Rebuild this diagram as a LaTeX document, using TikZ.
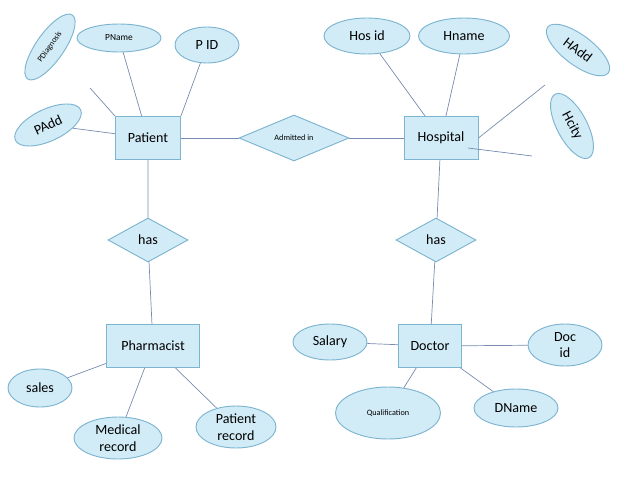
\documentclass[tikz,border=0pt]{standalone}
\usepackage{fontspec}
\setmainfont{Carlito}
\usetikzlibrary{shapes.geometric}
\definecolor{bfill}{RGB}{210,236,247}
\definecolor{bdraw}{RGB}{125,180,208}
\definecolor{lcol}{RGB}{120,140,175}
\begin{document}
\begin{tikzpicture}[x=0.03cm,y=-0.03cm,
 sh/.style={draw=bdraw,fill=bfill,line width=0.8pt,inner sep=1pt,align=center},
 ent/.style={sh,rectangle,minimum width=#1*0.03cm,minimum height=43*0.03cm,font=\fontsize{12}{14}\selectfont},
 rel/.style={sh,diamond,aspect=2.3,minimum width=#1*0.03cm,font=\fontsize{12}{14}\selectfont},
 att/.style={sh,ellipse,inner sep=0pt,font=\fontsize{12}{14}\selectfont},
 ln/.style={draw=lcol,line width=0.6pt}]
\useasboundingbox (0,0) rectangle (638,478);
\node[ent=65] (pat) at (148,138) {Patient};
\node[ent=74] (hos) at (441,138) {Hospital};
\node[rel=110,font=\fontsize{7}{8}\selectfont,minimum height=46*0.03cm] (adm) at (294,138) {Admitted in};
\node[rel=80,minimum height=44*0.03cm] (has1) at (148,240) {has};
\node[rel=80,minimum height=44*0.03cm] (has2) at (436,240) {has};
\node[ent=93] (pha) at (153,346) {Pharmacist};
\node[ent=63] (doc) at (430,346) {Doctor};
\node[att,minimum width=78*0.03cm,minimum height=28*0.03cm,rotate=55,font=\fontsize{7}{8}\selectfont] (pdi) at (50,47) {PDiagnosis};
\node[att,minimum width=84*0.03cm,minimum height=28*0.03cm,font=\fontsize{8}{9}\selectfont] (pna) at (119,38) {PName};
\node[att,minimum width=64*0.03cm,minimum height=36*0.03cm] (pid) at (207,45) {P ID};
\node[att,minimum width=72*0.03cm,minimum height=32*0.03cm,rotate=25] (pad) at (48,125) {PAdd};
\node[att,minimum width=86*0.03cm,minimum height=36*0.03cm] (hid) at (367,36) {Hos id};
\node[att,minimum width=91*0.03cm,minimum height=36*0.03cm] (hna) at (464,36) {Hname};
\node[att,minimum width=76*0.03cm,minimum height=30*0.03cm,rotate=-37] (had) at (578,50) {HAdd};
\node[att,minimum width=72*0.03cm,minimum height=30*0.03cm,rotate=-62] (hci) at (572,126) {Hcity};
\node[att,minimum width=74*0.03cm,minimum height=36*0.03cm] (sal) at (330,342) {Salary};
\node[att,minimum width=74*0.03cm,minimum height=42*0.03cm] (did) at (565,345) {Doc\\id};
\node[att,minimum width=64*0.03cm,minimum height=38*0.03cm] (sale) at (40,388) {sales};
\node[att,minimum width=88*0.03cm,minimum height=42*0.03cm] (med) at (118,438) {Medical\\record};
\node[att,minimum width=80*0.03cm,minimum height=42*0.03cm] (prec) at (236,427) {Patient\\record};
\node[att,minimum width=105*0.03cm,minimum height=52*0.03cm,font=\fontsize{7}{8}\selectfont] (qua) at (388,413) {Qualification};
\node[att,minimum width=84*0.03cm,minimum height=38*0.03cm] (dna) at (516,408) {DName};
\coordinate (f1) at (90,88);
\coordinate (f2) at (545,85);
\coordinate (f3) at (532,156);
\coordinate (f4) at (468,148);
\path[ln] (f1) -- (pat.north west);
\path[ln] (pna) -- (pat);
\path[ln] (pid) -- (pat.north east);
\path[ln] (pad) -- (pat);
\path[ln] (pat) -- (adm) -- (hos);
\path[ln] (pat) -- (has1) -- (pha);
\path[ln] (hid) -- (hos);
\path[ln] (hna) -- (hos);
\path[ln] (f2) -- (hos.east);
\path[ln] (f4) -- (f3);
\path[ln] (hos) -- (has2) -- (doc);
\path[ln] (sale) -- (pha);
\path[ln] (med) -- (pha);
\path[ln] (prec) -- (pha);
\path[ln] (sal) -- (doc);
\path[ln] (did) -- (doc);
\path[ln] (qua) -- (doc);
\path[ln] (dna) -- (doc);
\end{tikzpicture}
\end{document}
